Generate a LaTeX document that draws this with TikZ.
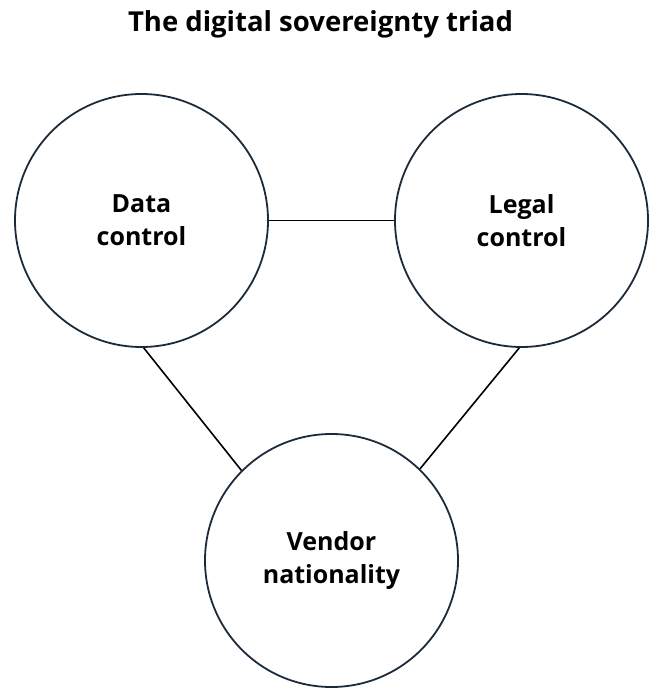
\documentclass[tikz,border=0pt]{standalone}
\usepackage{fontspec}
\setmainfont{Open Sans}
\begin{document}
\begin{tikzpicture}[x=1pt,y=-1pt,
  circ/.style={circle,draw=circborder,line width=1.8pt,minimum size=253pt,inner sep=0pt,align=center,
    font=\fontsize{25}{33}\selectfont\bfseries,text=black},
  link/.style={draw=black,line width=1.6pt}]
\definecolor{circborder}{HTML}{1C2B3A}
\useasboundingbox (0,0) rectangle (664,700);
\node[font=\fontsize{27.5}{32}\selectfont\bfseries] (title) at (320.5,24) {The digital sovereignty triad};
\node[circ] (data) at (141.5,220.5) {Data\\control};
\node[circ] (legal) at (521.5,220.5) {Legal\\control};
\node[circ] (vendor) at (331.5,560.5) {Vendor\\nationality};
\draw[link] (data.east) -- (legal.west);
\draw[link] (data.-89) -- (vendor.135);
\draw[link] (legal.-91) -- (vendor.46);
\end{tikzpicture}
\end{document}
